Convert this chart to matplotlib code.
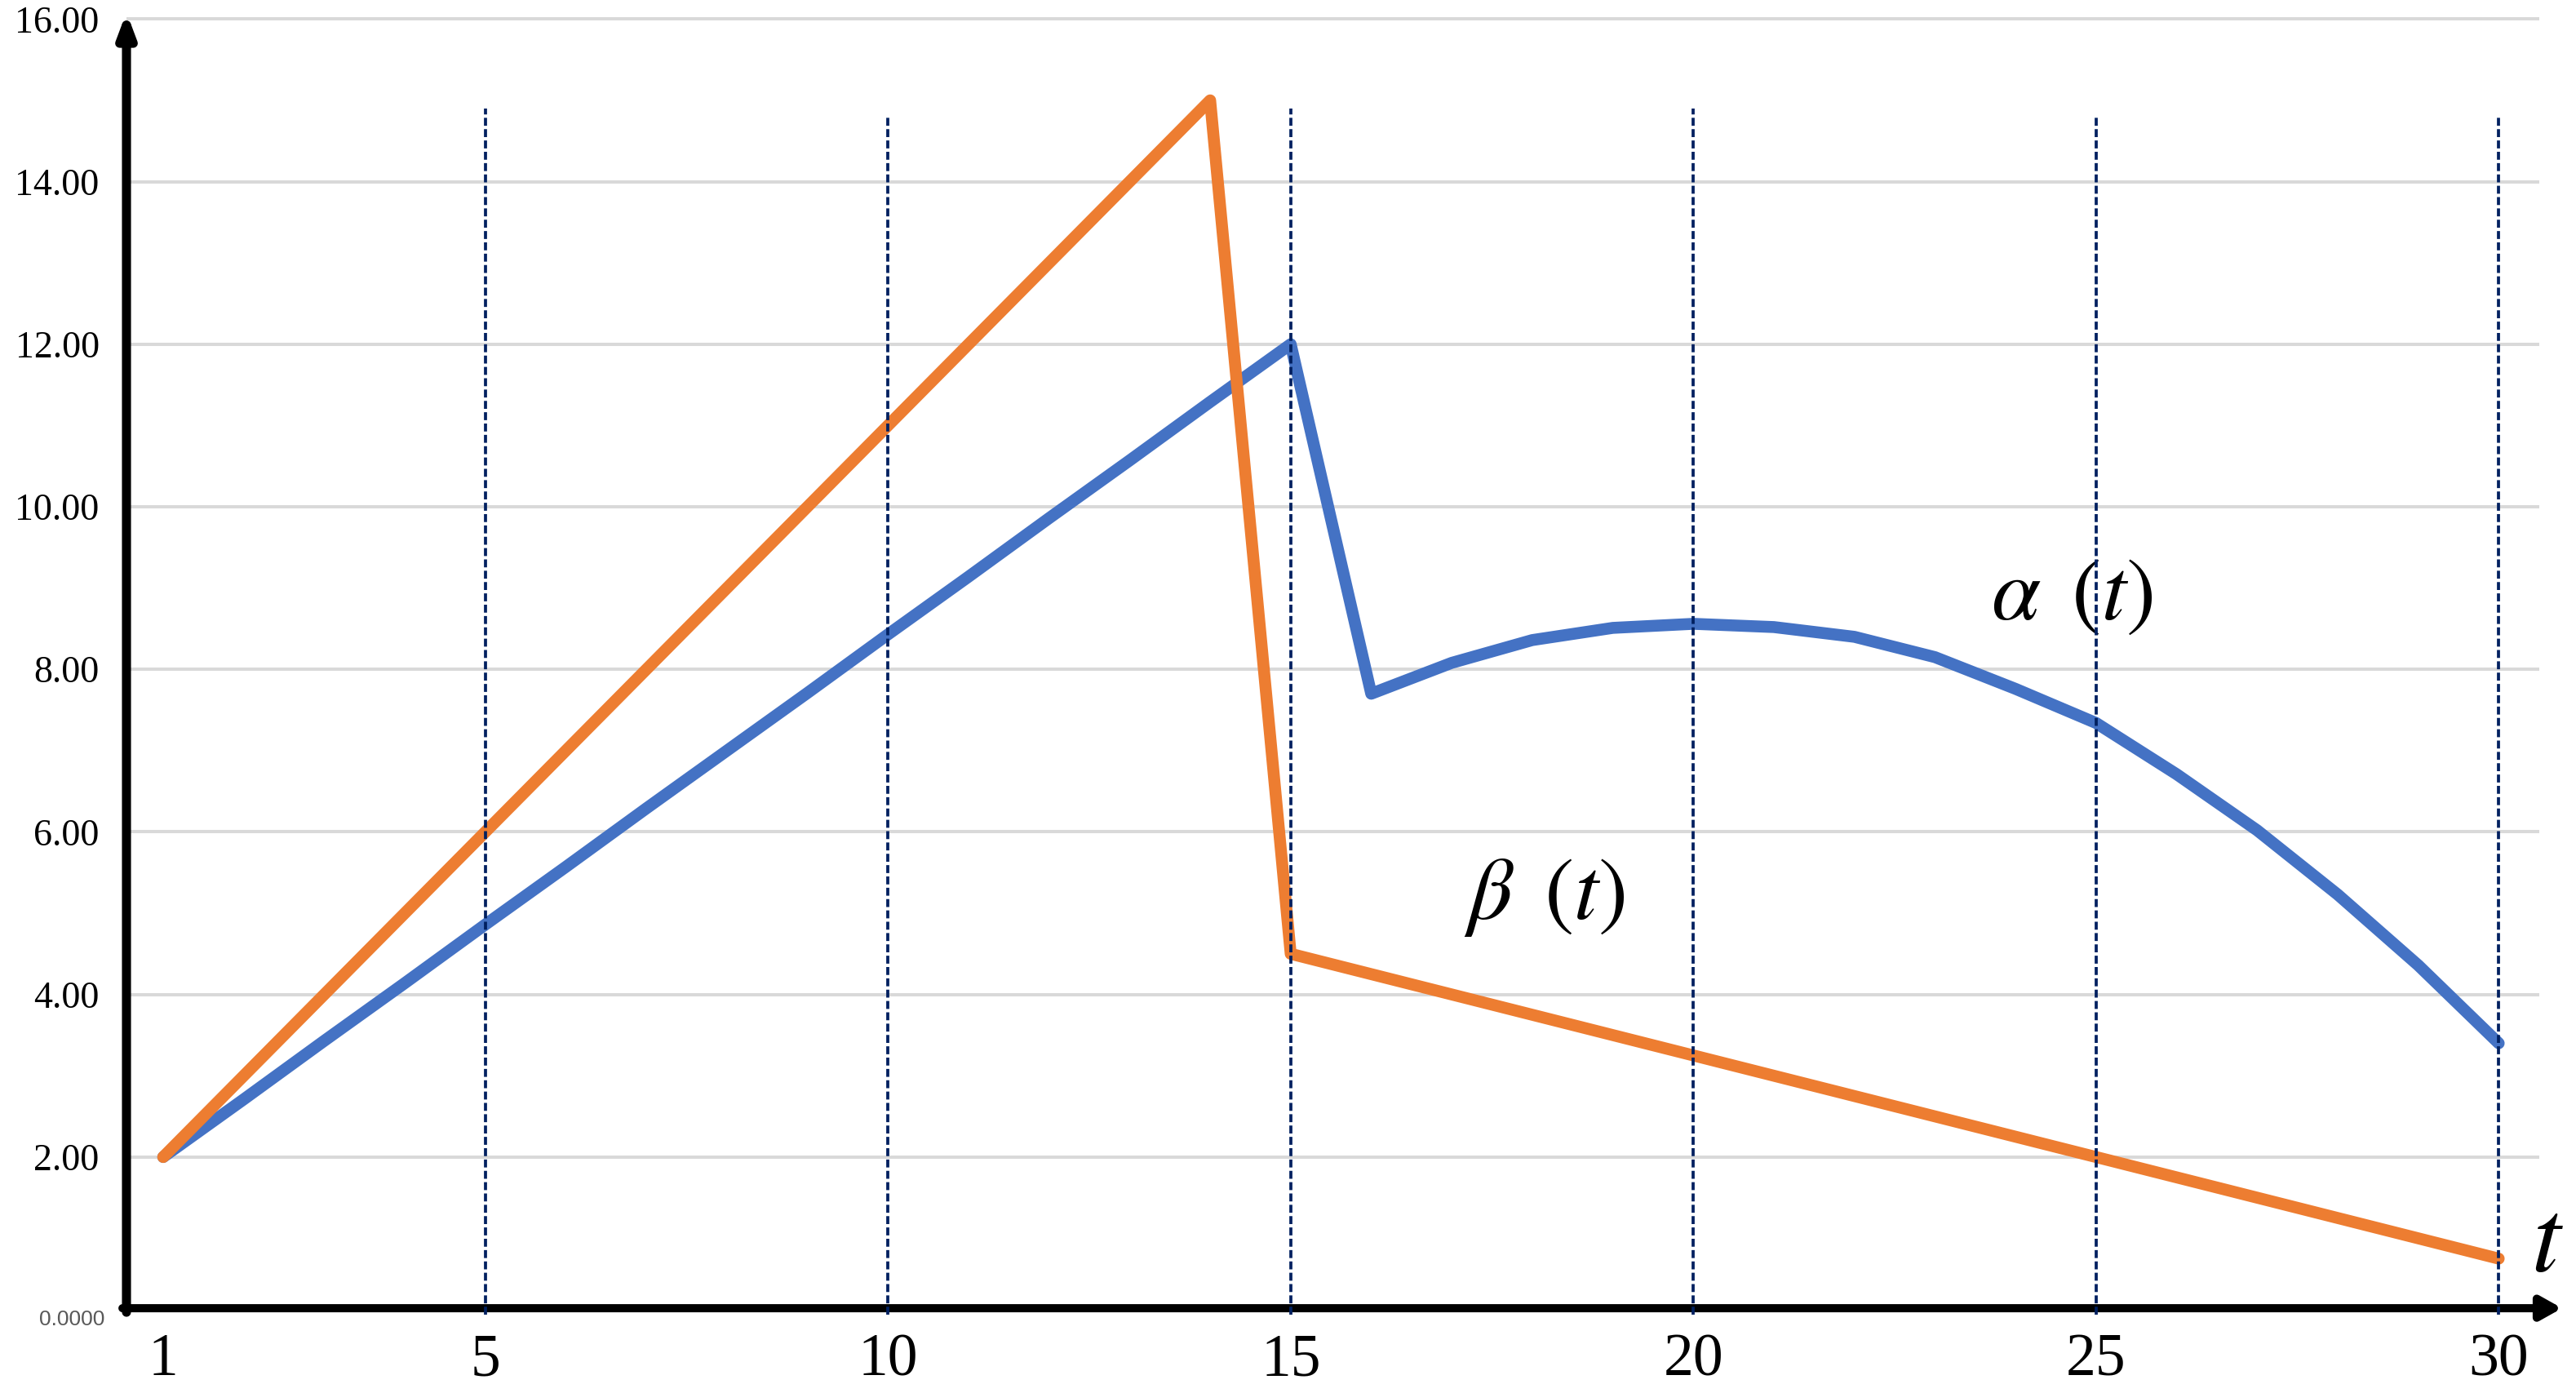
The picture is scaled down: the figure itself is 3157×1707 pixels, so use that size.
import matplotlib
matplotlib.use("Agg")
import matplotlib.pyplot as plt

# values
t = list(range(1, 31))
alpha = [2.00, 2.71, 3.43, 4.14, 4.86, 5.57, 6.29, 7.00, 7.71, 8.43,
         9.14, 9.86, 10.57, 11.29, 12.00, 7.70, 8.08, 8.36, 8.51, 8.56,
         8.52, 8.40, 8.15, 7.76, 7.34, 6.71, 6.02, 5.23, 4.36, 3.40]
beta = [2.0, 3.0, 4.0, 5.0, 6.0, 7.0, 8.0, 9.0, 10.0, 11.0,
        12.0, 13.0, 14.0, 15.0, 4.50, 4.25, 4.00, 3.75, 3.50, 3.25,
        3.00, 2.75, 2.50, 2.25, 2.00, 1.75, 1.50, 1.25, 1.00, 0.75]

x_ticks = [1, 5, 10, 15, 20, 25, 30]
y_ticks = [2, 4, 6, 8, 10, 12, 14, 16]
y_labels = ["2.00", "4.00", "6.00", "8.00", "10.00", "12.00", "14.00", "16.00"]

# dashed markers and how high each one reaches
marker_t = [5, 10, 15, 20, 25, 30]
marker_top = [14.9, 14.82, 14.9, 14.9, 14.82, 14.82]

plt.rcParams['font.family'] = ['Liberation Serif', 'DejaVu Serif']
plt.rcParams['mathtext.fontset'] = 'stix'

fig = plt.figure(figsize=(31.57, 17.07), dpi=100)
ax = fig.add_axes([0.0491, 0.0527, 0.9455, 0.9385])
x0, x1 = 0.544, 30.787
y0, y1 = 0.0, 16.084
ax.set_xlim(x0, x1)
ax.set_ylim(y0, y1)

for s in ax.spines.values():
    s.set_visible(False)

# light horizontal grid
ax.hlines(y_ticks, x0, 30.5, color='#D9D9D9', lw=2.9, zorder=1)

# the two series
ax.plot(t, alpha, color='#4472C4', lw=10.5, solid_capstyle='round',
        solid_joinstyle='round', zorder=3)
ax.plot(t, beta, color='#ED7D31', lw=10.5, solid_capstyle='round',
        solid_joinstyle='round', zorder=4)

# dashed vertical markers
for xm, top in zip(marker_t, marker_top):
    ax.plot([xm, xm], [0.06, top], color='#002060', lw=2.7,
            dashes=(2.6, 1.1), zorder=6, clip_on=False)

# hand drawn axis arrows
ax.annotate('', xy=(x1, 0.14), xytext=(x0 - 0.05, 0.14),
            arrowprops=dict(arrowstyle='-|>,head_length=0.75,head_width=0.42',
                            lw=7.2, color='black', shrinkA=0, shrinkB=0,
                            mutation_scale=20),
            annotation_clip=False, zorder=5)
ax.annotate('', xy=(x0, y1), xytext=(x0, 0.09),
            arrowprops=dict(arrowstyle='-|>,head_length=0.8,head_width=0.3',
                            lw=8, color='black', shrinkA=0, shrinkB=0,
                            mutation_scale=20),
            annotation_clip=False, zorder=5)

ax.set_xticks(x_ticks)
ax.set_xticklabels([str(v) for v in x_ticks])
ax.set_yticks(y_ticks)
ax.set_yticklabels(y_labels)
ax.tick_params(axis='x', length=0, pad=12, labelsize=53)
ax.tick_params(axis='y', length=0, pad=24, labelsize=33)

ax.annotate('0.0000', xy=(0, 0), xycoords=ax.get_yaxis_transform(),
            xytext=(-19.5, 0), textcoords='offset points', ha='right',
            va='center', fontsize=19, color='#595959',
            family=['Liberation Sans', 'DejaVu Sans'], annotation_clip=False)

# curve names
ax.text(24.7, 8.88, r'$\alpha\ \,(t)$', fontsize=78, ha='center', va='center')
ax.text(18.15, 5.19, r'$\beta\ \,(t)$', fontsize=78, ha='center', va='center')
ax.text(30.6, 0.9, r'$t$', fontsize=92, ha='center', va='center')

fig.savefig('out.png', dpi=100)
